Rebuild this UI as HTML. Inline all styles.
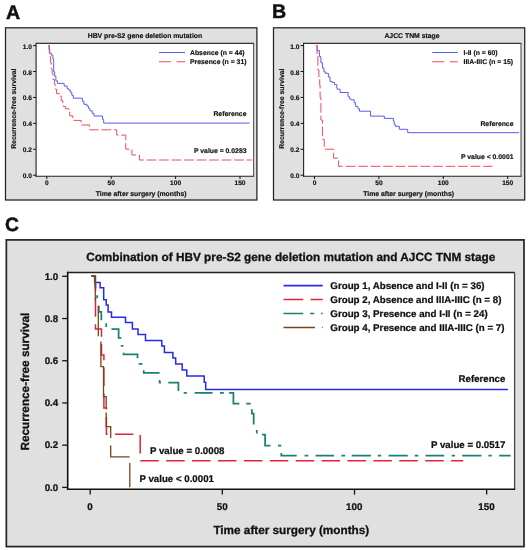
<!DOCTYPE html>
<html><head><meta charset="utf-8"><title>Figure</title>
<style>
html,body{margin:0;padding:0;background:#fff;}
svg{display:block;}
svg text{font-family:"Liberation Sans", sans-serif;font-weight:bold;fill:#111;stroke:#111;text-rendering:geometricPrecision;}
</style></head><body>
<svg width="529" height="550" viewBox="0 0 529 550">
<rect x="0" y="0" width="529" height="550" fill="#fff"/>
<rect x="5.5" y="27.8" width="251.39999999999998" height="172.2" fill="#e0e0e0" stroke="#222" stroke-width="1.25" />
<rect x="36.1" y="43.3" width="217.5" height="132.89999999999998" fill="#fff" stroke="none" stroke-width="1" />
<line x1="36.1" y1="43.3" x2="254.1" y2="43.3" stroke="#333" stroke-width="1.2" />
<line x1="253.6" y1="43.3" x2="253.6" y2="176.2" stroke="#555" stroke-width="1.1" />
<line x1="36.1" y1="42.7" x2="36.1" y2="176.7" stroke="#222" stroke-width="1.1" />
<line x1="35.6" y1="176.2" x2="254.1" y2="176.2" stroke="#222" stroke-width="1.1" />
<text x="5.9" y="18.9" font-size="19.6" stroke-width="0.49" text-anchor="start" >A</text>
<text x="144.95" y="38.45" font-size="6.85" stroke-width="0.171" text-anchor="middle" >HBV pre-S2 gene deletion mutation</text>
<line x1="33.1" y1="45.6" x2="36.1" y2="45.6" stroke="#111" stroke-width="1" />
<text x="32.0" y="48.66" font-size="6.6" stroke-width="0.165" text-anchor="end" >1.0</text>
<line x1="33.1" y1="71.52000000000001" x2="36.1" y2="71.52000000000001" stroke="#111" stroke-width="1" />
<text x="32.0" y="74.54" font-size="6.6" stroke-width="0.165" text-anchor="end" >0.8</text>
<line x1="33.1" y1="97.44" x2="36.1" y2="97.44" stroke="#111" stroke-width="1" />
<text x="32.0" y="100.42" font-size="6.6" stroke-width="0.165" text-anchor="end" >0.6</text>
<line x1="33.1" y1="123.36000000000001" x2="36.1" y2="123.36000000000001" stroke="#111" stroke-width="1" />
<text x="32.0" y="126.3" font-size="6.6" stroke-width="0.165" text-anchor="end" >0.4</text>
<line x1="33.1" y1="149.28" x2="36.1" y2="149.28" stroke="#111" stroke-width="1" />
<text x="32.0" y="152.18" font-size="6.6" stroke-width="0.165" text-anchor="end" >0.2</text>
<line x1="33.1" y1="175.20000000000002" x2="36.1" y2="175.20000000000002" stroke="#111" stroke-width="1" />
<text x="32.0" y="178.06" font-size="6.6" stroke-width="0.165" text-anchor="end" >0.0</text>
<line x1="46.8" y1="176.2" x2="46.8" y2="179.0" stroke="#111" stroke-width="1" />
<text x="46.8" y="185.46" font-size="6.6" stroke-width="0.165" text-anchor="middle" >0</text>
<line x1="111.2" y1="176.2" x2="111.2" y2="179.0" stroke="#111" stroke-width="1" />
<text x="111.2" y="185.46" font-size="6.6" stroke-width="0.165" text-anchor="middle" >50</text>
<line x1="175.60000000000002" y1="176.2" x2="175.60000000000002" y2="179.0" stroke="#111" stroke-width="1" />
<text x="175.60000000000002" y="185.46" font-size="6.6" stroke-width="0.165" text-anchor="middle" >100</text>
<line x1="240.0" y1="176.2" x2="240.0" y2="179.0" stroke="#111" stroke-width="1" />
<text x="240.0" y="185.46" font-size="6.6" stroke-width="0.165" text-anchor="middle" >150</text>
<text x="141.15" y="195.65" font-size="6.85" stroke-width="0.171" text-anchor="middle" >Time after surgery (months)</text>
<text transform="translate(16.1523,108.7) rotate(-90)" font-size="6.85" stroke-width="0.171" text-anchor="middle">Recurrence-free survival</text>
<line x1="159" y1="52.5" x2="185" y2="52.5" stroke="#5a5af0" stroke-width="1" />
<line x1="159" y1="61.75" x2="185" y2="61.75" stroke="#ee4a60" stroke-width="1" stroke-dasharray="12 5.5"/>
<text x="190" y="54.95" font-size="6.85" stroke-width="0.171" text-anchor="start" >Absence (n = 44)</text>
<text x="190" y="64.2" font-size="6.85" stroke-width="0.171" text-anchor="start" >Presence (n = 31)</text>
<text x="246.5" y="115.7" font-size="6.85" stroke-width="0.171" text-anchor="end" >Reference</text>
<text x="246.5" y="153.2" font-size="6.85" stroke-width="0.171" text-anchor="end" >P value = 0.0283</text>
<polyline points="48.3,45.6 49.4,45.6 49.4,53.3 51.3,53.3 51.3,55.1 52.9,55.1 52.9,58.9 53.7,58.9 53.7,71.8 54.7,71.8 54.7,76.3 55.9,76.3 55.9,80.8 57.4,80.8 57.4,83.4 64.2,83.4 64.2,86.1 67.2,86.1 67.2,88.7 68.7,88.7 68.7,89.9 70.3,89.9 70.3,92.2 71.8,92.2 71.8,95.2 73.3,95.2 73.3,98.2 82.4,98.2 82.4,101.3 83.9,101.3 83.9,104.3 86.9,104.3 86.9,106 88.4,106 88.4,108.3 89.9,108.3 89.9,110.8 92.2,110.8 92.2,113.4 94,113.4 94,116 102.6,116 102.6,119.4 103.7,119.4 103.7,123.1 249.7,123.1" fill="none" stroke="#5a5af0" stroke-width="1"  />
<polyline points="48.3,45.6 49,45.6 49,50 49.8,50 49.8,56.6 50.6,56.6 50.6,62.7 51.3,62.7 51.3,68.7 52.1,68.7 52.1,73.3 52.9,73.3 52.9,79.3 54.4,79.3 54.4,83.9 55.1,83.9 55.1,89.2 56.6,89.2 56.6,93.7 60.4,93.7 60.4,96 61.2,96 61.2,100.5 62.7,100.5 62.7,102.8 63.4,102.8 63.4,106.6 65.7,106.6 65.7,108.8 69,108.8 69,112 69.8,112 69.8,115.9 72.9,115.9 72.9,120.4 81.2,120.4 81.2,125 89.5,125 89.5,129.8 116.7,129.8 116.7,135.1 125.8,135.1 125.8,149.2 131.9,149.2 131.9,155 139.4,155 139.4,160" fill="none" stroke="#ee4a60" stroke-width="1" stroke-dasharray="9.6 2.9" />
<polyline points="139.4,160 251.6,160" fill="none" stroke="#ee4a60" stroke-width="1" stroke-dasharray="9.6 2.9" stroke-dashoffset="5.2"/>
<rect x="273.5" y="27.8" width="251.20000000000005" height="172.2" fill="#e0e0e0" stroke="#222" stroke-width="1.25" />
<rect x="303.6" y="43.3" width="217.39999999999998" height="132.89999999999998" fill="#fff" stroke="none" stroke-width="1" />
<line x1="303.6" y1="43.3" x2="521.5" y2="43.3" stroke="#333" stroke-width="1.2" />
<line x1="521.0" y1="43.3" x2="521.0" y2="176.2" stroke="#555" stroke-width="1.1" />
<line x1="303.6" y1="42.7" x2="303.6" y2="176.7" stroke="#222" stroke-width="1.1" />
<line x1="303.1" y1="176.2" x2="521.5" y2="176.2" stroke="#222" stroke-width="1.1" />
<text x="272.0" y="18.3" font-size="19.6" stroke-width="0.49" text-anchor="start" >B</text>
<text x="412.0" y="38.45" font-size="6.85" stroke-width="0.171" text-anchor="middle" >AJCC TNM stage</text>
<line x1="300.6" y1="45.6" x2="303.6" y2="45.6" stroke="#111" stroke-width="1" />
<text x="299.5" y="48.66" font-size="6.6" stroke-width="0.165" text-anchor="end" >1.0</text>
<line x1="300.6" y1="71.52000000000001" x2="303.6" y2="71.52000000000001" stroke="#111" stroke-width="1" />
<text x="299.5" y="74.54" font-size="6.6" stroke-width="0.165" text-anchor="end" >0.8</text>
<line x1="300.6" y1="97.44" x2="303.6" y2="97.44" stroke="#111" stroke-width="1" />
<text x="299.5" y="100.42" font-size="6.6" stroke-width="0.165" text-anchor="end" >0.6</text>
<line x1="300.6" y1="123.36000000000001" x2="303.6" y2="123.36000000000001" stroke="#111" stroke-width="1" />
<text x="299.5" y="126.3" font-size="6.6" stroke-width="0.165" text-anchor="end" >0.4</text>
<line x1="300.6" y1="149.28" x2="303.6" y2="149.28" stroke="#111" stroke-width="1" />
<text x="299.5" y="152.18" font-size="6.6" stroke-width="0.165" text-anchor="end" >0.2</text>
<line x1="300.6" y1="175.20000000000002" x2="303.6" y2="175.20000000000002" stroke="#111" stroke-width="1" />
<text x="299.5" y="178.06" font-size="6.6" stroke-width="0.165" text-anchor="end" >0.0</text>
<line x1="314.5" y1="176.2" x2="314.5" y2="179.0" stroke="#111" stroke-width="1" />
<text x="314.5" y="185.46" font-size="6.6" stroke-width="0.165" text-anchor="middle" >0</text>
<line x1="378.9" y1="176.2" x2="378.9" y2="179.0" stroke="#111" stroke-width="1" />
<text x="378.9" y="185.46" font-size="6.6" stroke-width="0.165" text-anchor="middle" >50</text>
<line x1="443.3" y1="176.2" x2="443.3" y2="179.0" stroke="#111" stroke-width="1" />
<text x="443.3" y="185.46" font-size="6.6" stroke-width="0.165" text-anchor="middle" >100</text>
<line x1="507.70000000000005" y1="176.2" x2="507.70000000000005" y2="179.0" stroke="#111" stroke-width="1" />
<text x="507.70000000000005" y="185.46" font-size="6.6" stroke-width="0.165" text-anchor="middle" >150</text>
<text x="408.6" y="195.65" font-size="6.85" stroke-width="0.171" text-anchor="middle" >Time after surgery (months)</text>
<text transform="translate(284.15229999999997,108.7) rotate(-90)" font-size="6.85" stroke-width="0.171" text-anchor="middle">Recurrence-free survival</text>
<line x1="432.25" y1="52.5" x2="457.75" y2="52.5" stroke="#5a5af0" stroke-width="1" />
<line x1="432.25" y1="61.75" x2="457.75" y2="61.75" stroke="#ee4a60" stroke-width="1" stroke-dasharray="12 5.5"/>
<text x="463.5" y="54.95" font-size="6.85" stroke-width="0.171" text-anchor="start" >I-II (n = 60)</text>
<text x="463.5" y="64.2" font-size="6.85" stroke-width="0.171" text-anchor="start" >IIIA-IIIC (n = 15)</text>
<text x="513.5" y="126.2" font-size="6.85" stroke-width="0.171" text-anchor="end" >Reference</text>
<text x="513.5" y="159.45" font-size="6.85" stroke-width="0.171" text-anchor="end" >P value &lt; 0.0001</text>
<polyline points="316.3,45.6 317.1,45.6 317.1,50.6 319.4,50.6 319.4,56.6 320.9,56.6 320.9,62.7 322.4,62.7 322.4,68 323.9,68 323.9,71.8 325.4,71.8 325.4,73.3 328.4,73.3 328.4,77 330,77 330,81.6 332.2,81.6 332.2,82.4 334.5,82.4 334.5,84.6 336.8,84.6 336.8,88.4 337.5,88.4 337.5,89.2 340.1,89.2 340.1,92.5 348.1,92.5 348.1,96.7 349.6,96.7 349.6,99 351.1,99 351.1,99.8 354.2,99.8 354.2,102.8 355.7,102.8 355.7,106.6 358,106.6 358,108.8 359.5,108.8 359.5,111.2 370.5,111.2 370.5,116.1 384.3,116.1 384.3,118.4 393.4,118.4 393.4,121 394.2,121 394.2,124 395.2,124 395.2,126.3 399.4,126.3 399.4,129.3 407.7,129.3 407.7,132.7 519,132.7" fill="none" stroke="#5a5af0" stroke-width="1"  />
<polyline points="315.9,45.6 317.1,45.6 317.1,55 317.9,55 317.9,70 318.9,70 318.9,79 319.7,79 319.7,85 320.1,85 320.1,97.5 320.9,97.5 320.9,120 322.4,120 322.4,139.3 324.2,139.3 324.2,149.2 333.6,149.2 333.6,158.2 338.6,158.2 338.6,166.3" fill="none" stroke="#ee4a60" stroke-width="1" stroke-dasharray="9.6 2.9" />
<polyline points="338.6,166.3 492.5,166.3" fill="none" stroke="#ee4a60" stroke-width="1" stroke-dasharray="9.6 2.9" stroke-dashoffset="5.4"/>
<rect x="6.35" y="239.9" width="517.65" height="306.70000000000005" fill="#e0e0e0" stroke="#222" stroke-width="1.7" />
<rect x="67.7" y="272.4" width="446.90000000000003" height="216.8" fill="#fff" stroke="none" stroke-width="1" />
<line x1="67.7" y1="272.4" x2="514.6" y2="272.4" stroke="#222" stroke-width="1.5" />
<line x1="514.6" y1="272.4" x2="514.6" y2="489.2" stroke="#444" stroke-width="1.3" />
<line x1="67.7" y1="271.7" x2="67.7" y2="490.0" stroke="#111" stroke-width="1.6" />
<line x1="66.9" y1="489.2" x2="515.2" y2="489.2" stroke="#111" stroke-width="1.6" />
<text x="5.0" y="231" font-size="19.3" stroke-width="0.483" text-anchor="start" >C</text>
<text x="290.75" y="261.22" font-size="11.8" stroke-width="0.295" text-anchor="middle" >Combination of HBV pre-S2 gene deletion mutation and AJCC TNM stage</text>
<line x1="62.2" y1="276.3" x2="67.7" y2="276.3" stroke="#111" stroke-width="1.3" />
<text x="58.300000000000004" y="279.61" font-size="9.8" stroke-width="0.245" text-anchor="end" >1.0</text>
<line x1="62.2" y1="318.52" x2="67.7" y2="318.52" stroke="#111" stroke-width="1.3" />
<text x="58.300000000000004" y="321.83" font-size="9.8" stroke-width="0.245" text-anchor="end" >0.8</text>
<line x1="62.2" y1="360.74" x2="67.7" y2="360.74" stroke="#111" stroke-width="1.3" />
<text x="58.300000000000004" y="364.05" font-size="9.8" stroke-width="0.245" text-anchor="end" >0.6</text>
<line x1="62.2" y1="402.96" x2="67.7" y2="402.96" stroke="#111" stroke-width="1.3" />
<text x="58.300000000000004" y="406.27" font-size="9.8" stroke-width="0.245" text-anchor="end" >0.4</text>
<line x1="62.2" y1="445.18" x2="67.7" y2="445.18" stroke="#111" stroke-width="1.3" />
<text x="58.300000000000004" y="448.49" font-size="9.8" stroke-width="0.245" text-anchor="end" >0.2</text>
<line x1="62.2" y1="487.4" x2="67.7" y2="487.4" stroke="#111" stroke-width="1.3" />
<text x="58.300000000000004" y="490.71" font-size="9.8" stroke-width="0.245" text-anchor="end" >0.0</text>
<line x1="90.2" y1="489.2" x2="90.2" y2="494.59999999999997" stroke="#111" stroke-width="1.3" />
<text x="90.0" y="509.71" font-size="9.8" stroke-width="0.245" text-anchor="middle" >0</text>
<line x1="222.35" y1="489.2" x2="222.35" y2="494.59999999999997" stroke="#111" stroke-width="1.3" />
<text x="222.15" y="509.71" font-size="9.8" stroke-width="0.245" text-anchor="middle" >50</text>
<line x1="354.5" y1="489.2" x2="354.5" y2="494.59999999999997" stroke="#111" stroke-width="1.3" />
<text x="354.3" y="509.71" font-size="9.8" stroke-width="0.245" text-anchor="middle" >100</text>
<line x1="486.65" y1="489.2" x2="486.65" y2="494.59999999999997" stroke="#111" stroke-width="1.3" />
<text x="486.45" y="509.71" font-size="9.8" stroke-width="0.245" text-anchor="middle" >150</text>
<text x="291.3" y="533.71" font-size="11.75" stroke-width="0.294" text-anchor="middle" >Time after surgery (months)</text>
<text transform="translate(28.606499999999997,381.6) rotate(-90)" font-size="11.75" stroke-width="0.294" text-anchor="middle">Recurrence-free survival</text>
<line x1="283.5" y1="285.6" x2="322.7" y2="285.6" stroke="#2a2ae6" stroke-width="1.55" />
<line x1="283.5" y1="299.4" x2="322.7" y2="299.4" stroke="#e6213c" stroke-width="1.55" stroke-dasharray="19.7 7.3"/>
<line x1="283.5" y1="313.5" x2="322.7" y2="313.5" stroke="#1a8070" stroke-width="1.55" stroke-dasharray="19.7 6.9 4.2 6.9"/>
<line x1="283.5" y1="327.6" x2="322.7" y2="327.6" stroke="#7b4414" stroke-width="1.5" stroke-dasharray="31.5 6.9"/>
<text x="330.3" y="289.09" font-size="9.75" stroke-width="0.244" text-anchor="start" >Group 1, Absence and I-II (n = 36)</text>
<text x="330.3" y="302.89" font-size="9.75" stroke-width="0.244" text-anchor="start" >Group 2, Absence and IIIA-IIIC (n = 8)</text>
<text x="330.3" y="316.99" font-size="9.75" stroke-width="0.244" text-anchor="start" >Group 3, Presence and I-II (n = 24)</text>
<text x="330.3" y="331.09" font-size="9.75" stroke-width="0.244" text-anchor="start" >Group 4, Presence and IIIA-IIIC (n = 7)</text>
<text x="505.4" y="382.17" font-size="9.7" stroke-width="0.242" text-anchor="end" >Reference</text>
<text x="505.4" y="448.07" font-size="9.7" stroke-width="0.242" text-anchor="end" >P value = 0.0517</text>
<text x="150.0" y="453.77" font-size="9.7" stroke-width="0.242" text-anchor="start" >P value = 0.0008</text>
<text x="139.5" y="481.67" font-size="9.7" stroke-width="0.242" text-anchor="start" >P value &lt; 0.0001</text>
<polyline points="91.3,276 94.6,276 94.6,282.4 100.1,282.4 100.1,287.7 103.7,287.7 103.7,299.8 106.2,299.8 106.2,305.1 108.1,305.1 108.1,311.9 111.5,311.9 111.5,317.2 125.5,317.2 125.5,322.5 132.4,322.5 132.4,329 138,329 138,334.6 145.5,334.6 145.5,340.6 161.8,340.6 161.8,345.9 164.4,345.9 164.4,352.4 172.9,352.4 172.9,358 175.7,358 175.7,364 182.2,364 182.2,370.1 186.8,370.1 186.8,376.1 204.2,376.1 204.2,382.2 205.7,382.2 205.7,389.4 508,389.4" fill="none" stroke="#2a2ae6" stroke-width="1.5"  />
<polyline points="91.3,276 95.5,276 95.5,329 101.5,329 101.5,355 103.9,355 103.9,408 106.4,408 106.4,434.2 140.2,434.2 140.2,460.7 463.2,460.7" fill="none" stroke="#e6213c" stroke-width="1.5" stroke-dasharray="18.5 7.4" stroke-dashoffset="25.3"/>
<path d="M94.8 277 L95.6 288 M97.1 295.2 L97.1 298.3 M98.8 305.8 L98.8 311.9 L101.3 311.9 L101.3 320.2 M106.2 323.2 L106.2 327 M111.5 329 L118.6 329 L118.6 337.9 L121.3 337.9 M120.8 345.8 L123.4 345.8 M123.6 352.8 L123.6 354.4 L137.5 354.4 L137.5 358.2 M138.7 363.9 L142.5 363.9 M143.7 370.3 L143.7 372.8 L159.6 372.8 M159.6 380 L159.6 382.6 L161 382.6 M168.3 382.6 L178.4 382.6 L178.4 391 M183.7 392.8 L186.8 392.8 M194.6 392.8 L212.5 392.8 M220 392.8 L223.8 392.8 M229.1 392.8 L233.4 392.8 L233.4 403.5 L239.4 403.5 M246.2 403.5 L250.7 403.5 M251.9 409.2 L251.9 413.7 L253.7 413.7 L253.7 424.6 M256.8 430 L256.8 433.4 M262 434.6 L265.1 434.6 L265.1 445.5 L270.4 445.5 M278 445.5 L281.3 445.5 M281.3 453 L281.3 455.6 L296.7 455.6 M304.6 455.6 L308.3 455.6 M315.6 455.6 L334 455.6 M341.4 455.6 L345.1 455.6 M351.7 455.6 L370.9 455.6 M377.8 455.6 L381.2 455.6 M388.6 455.6 L407.8 455.6 M414.8 455.6 L418.3 455.6 M425.5 455.6 L444.2 455.6 M451.7 455.6 L454.9 455.6 M462.2 455.6 L481.4 455.6 M488.4 455.6 L491.8 455.6 M499.2 455.6 L510.6 455.6" fill="none" stroke="#1a8070" stroke-width="1.75" />
<path d="M91.3 276 L95.3 276 L95.3 300.5 M98.3 305.8 L98.3 336.3 M100.9 341.5 L100.9 366.6 L103.5 366.6 L103.5 396.7 L106.2 396.7 L106.2 408 M106.2 412.6 L106.2 426.7 L110.7 426.7 L110.7 438 M110.7 445.6 L110.7 456.9 L129.6 456.9 M129.8 463 L129.8 487.2" fill="none" stroke="#7b4414" stroke-width="1.3" />
</svg>
</body></html>
